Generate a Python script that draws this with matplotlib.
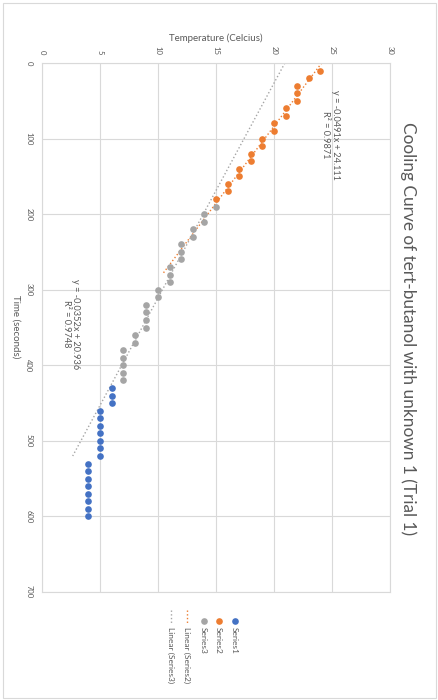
import numpy as np
import matplotlib
matplotlib.use('Agg')
from matplotlib import pyplot as plt
from matplotlib.lines import Line2D
from matplotlib.patches import Rectangle

plt.rcParams['font.family'] = ['Lato', 'DejaVu Sans']

# data (time in s, temperature in C)
time_s1 = [430, 440, 450, 460, 470, 480, 490, 500, 510, 520,
           530, 540, 550, 560, 570, 580, 590, 600]
temp_s1 = [6, 6, 6, 5, 5, 5, 5, 5, 5, 5,
           4, 4, 4, 4, 4, 4, 4, 4]

time_s2 = [10, 20, 30, 40, 50, 60, 70, 80, 90, 100,
           110, 120, 130, 140, 150, 160, 170, 180]
temp_s2 = [24, 23, 22, 22, 22, 21, 21, 20, 20, 19,
           19, 18, 18, 17, 17, 16, 16, 15]

time_s3 = [190, 200, 210, 220, 230, 240, 250, 260, 270, 280, 290, 300,
           310, 320, 330, 340, 350, 360, 370, 380, 390, 400, 410, 420]
temp_s3 = [15, 14, 14, 13, 13, 12, 12, 12, 11, 11, 11, 10,
           10, 9, 9, 9, 9, 8, 8, 7, 7, 7, 7, 7]

# trendline range (excel forecast back/forward)
trend2_range = [0, 280]
trend3_range = [0, 520]
eq2_text = 'y = -0.0491x + 24.111\nR² = 0.9871'
eq3_text = 'y = -0.0352x + 20.936\nR² = 0.9748'

blue = '#4472C4'
orange = '#ED7D31'
grey = '#A5A5A5'
txt = '#595959'
gridc = '#D9D9D9'

W, H = 439, 700
fig = plt.figure(figsize=(W / 100, H / 100), dpi=100)
fig.add_artist(Rectangle((2.5 / W, 2.5 / H), 434 / W, 695 / H, transform=fig.transFigure,
                         fill=False, edgecolor=gridc, lw=0.8))

ax = fig.add_axes([42 / W, 1 - 592 / H, 348 / W, 529 / H])

# chart is rotated: x = temperature, y = time going down
ax.plot(temp_s1, time_s1, 'o', color=blue, ms=4.8, mec='none', zorder=3)
ax.plot(temp_s2, time_s2, 'o', color=orange, ms=4.8, mec='none', zorder=3)
ax.plot(temp_s3, time_s3, 'o', color=grey, ms=4.8, mec='none', zorder=4)

m2, b2 = np.polyfit(time_s2, temp_s2, 1)
t2 = np.array(trend2_range)
ax.plot(m2 * t2 + b2, t2, ':', color=orange, lw=1.0, zorder=2)
m3, b3 = np.polyfit(time_s3, temp_s3, 1)
t3 = np.array(trend3_range)
ax.plot(m3 * t3 + b3, t3, ':', color=grey, lw=1.0, zorder=2)

ax.text(24.9, 95, eq2_text, rotation=-90, ha='center', va='center',
        multialignment='center', fontsize=6.6, color=txt, linespacing=1.1)
ax.text(2.5, 345, eq3_text, rotation=-90, ha='center', va='center',
        multialignment='center', fontsize=6.6, color=txt, linespacing=1.1)

ax.set_xlim(0, 30)
ax.set_ylim(700, 0)
ax.set_xticks(range(0, 31, 5))
ax.set_yticks(range(0, 701, 100))
ax.xaxis.tick_top()
ax.tick_params(axis='x', length=0, pad=6, labelsize=5.5, labelcolor=txt, labelrotation=-90)
ax.tick_params(axis='y', length=0, pad=7, labelsize=5.5, labelcolor=txt, labelrotation=-90)
for lab in ax.get_yticklabels():
    lab.set_va('center')
ax.grid(True, color=gridc, lw=0.8)
ax.set_axisbelow(True)
for sp in ax.spines.values():
    sp.set_color(gridc)
    sp.set_linewidth(0.8)

fig.text(216 / W, 1 - 38 / H, 'Temperature (Celcius)', ha='center', va='center',
         fontsize=7, color=txt)
fig.text(16 / W, 1 - 327 / H, 'Time (seconds)', ha='center', va='center',
         rotation=-90, fontsize=7, color=txt)
fig.text(408 / W, 1 - 329 / H, 'Cooling Curve of tert-butanol with unknown 1 (Trial 1)',
         ha='center', va='center', rotation=-90, fontsize=12.4, color=txt)

# legend, drawn sideways like the rest of the chart
leg_items = [('Series1', blue, 'o', 235), ('Series2', orange, 'o', 219),
             ('Series3', grey, 'o', 204), ('Linear (Series2)', orange, ':', 187),
             ('Linear (Series3)', grey, ':', 171)]
for name, col, style, xp in leg_items:
    if style == 'o':
        fig.add_artist(Line2D([xp / W], [1 - 621 / H], marker='o', color=col, ms=4.8,
                              mec='none', ls='none', transform=fig.transFigure))
    else:
        fig.add_artist(Line2D([xp / W, xp / W], [1 - 610 / H, 1 - 623 / H], ls=':', color=col,
                              lw=1.0, transform=fig.transFigure))
    fig.text(xp / W - 0.5 / W, 1 - 627 / H, name, rotation=-90, ha='center', va='top',
             fontsize=6, color=txt)

fig.savefig('out.png', dpi=100)
